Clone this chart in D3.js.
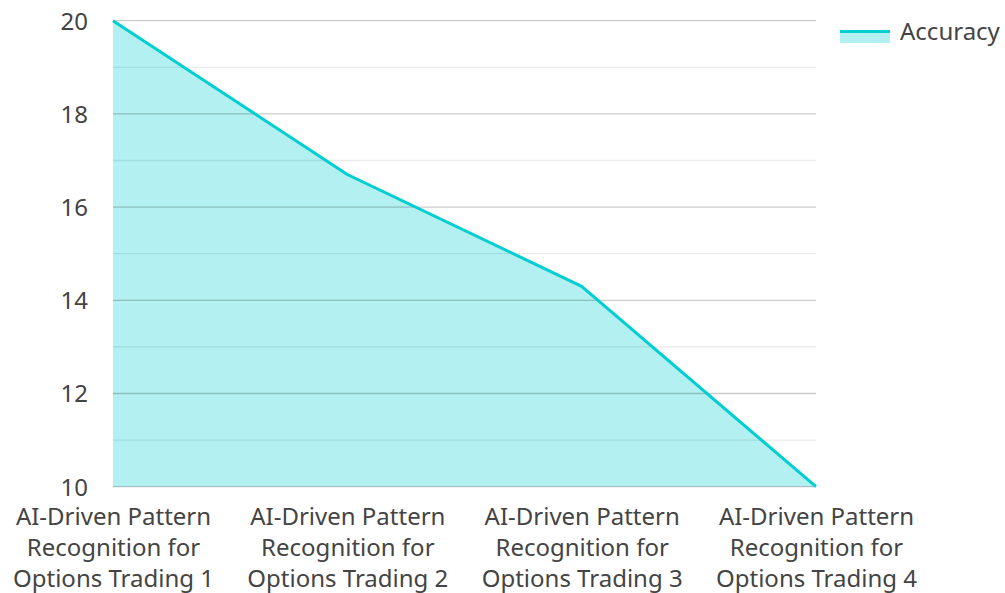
<!DOCTYPE html>
<html lang="en">
<head>
<meta charset="utf-8">
<title>Accuracy</title>
<style>
  body { margin: 0; background: #fff; }
  svg text { font-family: "Noto Sans", sans-serif; }
  .tick text { fill: #444; font-size: 24px; }
</style>
</head>
<body>
<svg width="1005" height="593"></svg>
<script src="https://d3js.org/d3.v7.min.js"></script>
<script>
  const categories = [
    "AI-Driven Pattern Recognition for Options Trading 1",
    "AI-Driven Pattern Recognition for Options Trading 2",
    "AI-Driven Pattern Recognition for Options Trading 3",
    "AI-Driven Pattern Recognition for Options Trading 4"
  ];
  const accuracy = [20, 16.7, 14.3, 10];
  const yTicks = [10, 12, 14, 16, 18, 20];
  const seriesName = "Accuracy";

  const margin = {top: 20.7, right: 189, bottom: 106.3, left: 113};
  const svg = d3.select("svg");
  const width = +svg.attr("width") - margin.left - margin.right;
  const height = +svg.attr("height") - margin.top - margin.bottom;
  const vis = svg.append("g").attr("transform", `translate(${margin.left},${margin.top})`);

  const x = d3.scalePoint().domain(categories).range([0, width]);
  const y = d3.scaleLinear().domain([10, 20]).range([height, 0]);

  const data = categories.map((c, i) => ({c: c, v: accuracy[i]}));

  // area under the line
  vis.append("path")
    .datum(data)
    .attr("fill", "#00ced1")
    .attr("fill-opacity", 0.3)
    .attr("d", d3.area().x(d => x(d.c)).y0(height).y1(d => y(d.v)));

  // gridlines (minor + major), drawn over the fill
  const minor = d3.range(11, 20, 2);
  vis.selectAll(".minor").data(minor).enter().append("line")
    .attr("x1", 0).attr("x2", width)
    .attr("y1", d => y(d)).attr("y2", d => y(d))
    .attr("stroke", "#000").attr("stroke-opacity", 0.08).attr("stroke-width", 1.3);
  vis.selectAll(".major").data(yTicks).enter().append("line")
    .attr("x1", 0).attr("x2", width)
    .attr("y1", d => y(d)).attr("y2", d => y(d))
    .attr("stroke", "#000").attr("stroke-opacity", 0.2).attr("stroke-width", 1.3);

  vis.append("path")
    .datum(data)
    .attr("fill", "none")
    .attr("stroke", "#00ced1")
    .attr("stroke-width", 3)
    .attr("stroke-linejoin", "round")
    .attr("d", d3.line().x(d => x(d.c)).y(d => y(d.v)));

  // y axis
  const yAxis = vis.append("g")
    .call(d3.axisLeft(y).tickValues(yTicks).tickSize(0).tickPadding(25));
  yAxis.select(".domain").remove();
  yAxis.selectAll("text").attr("dy", "0.35em");

  // x axis with wrapped labels
  const xAxis = vis.append("g")
    .attr("transform", `translate(0,${height})`)
    .call(d3.axisBottom(x).tickSize(0).tickFormat(""));
  xAxis.select(".domain").remove();
  xAxis.selectAll(".tick").each(function(d) {
    const words = d.split(" ");
    const lines = [words.slice(0, 2).join(" "), words.slice(2, 4).join(" "), words.slice(4).join(" ")];
    const t = d3.select(this).append("text")
      .attr("fill", "#444")
      .attr("text-anchor", "middle")
      .style("font-size", "24px");
    lines.forEach((l, i) => {
      t.append("tspan").attr("x", 0).attr("y", 38 + i * 31).text(l);
    });
  });

  // legend
  const legend = svg.append("g").attr("transform", "translate(840,30)");
  legend.append("rect").attr("x", 0).attr("y", 0).attr("width", 50).attr("height", 13)
    .attr("fill", "#00ced1").attr("fill-opacity", 0.3);
  legend.append("line").attr("x1", 0).attr("x2", 50).attr("y1", 1.5).attr("y2", 1.5)
    .attr("stroke", "#00ced1").attr("stroke-width", 3);
  legend.append("text").attr("x", 60).attr("y", 2).attr("dy", "0.35em")
    .attr("fill", "#444").style("font-size", "24px").text(seriesName);
</script>
</body>
</html>
